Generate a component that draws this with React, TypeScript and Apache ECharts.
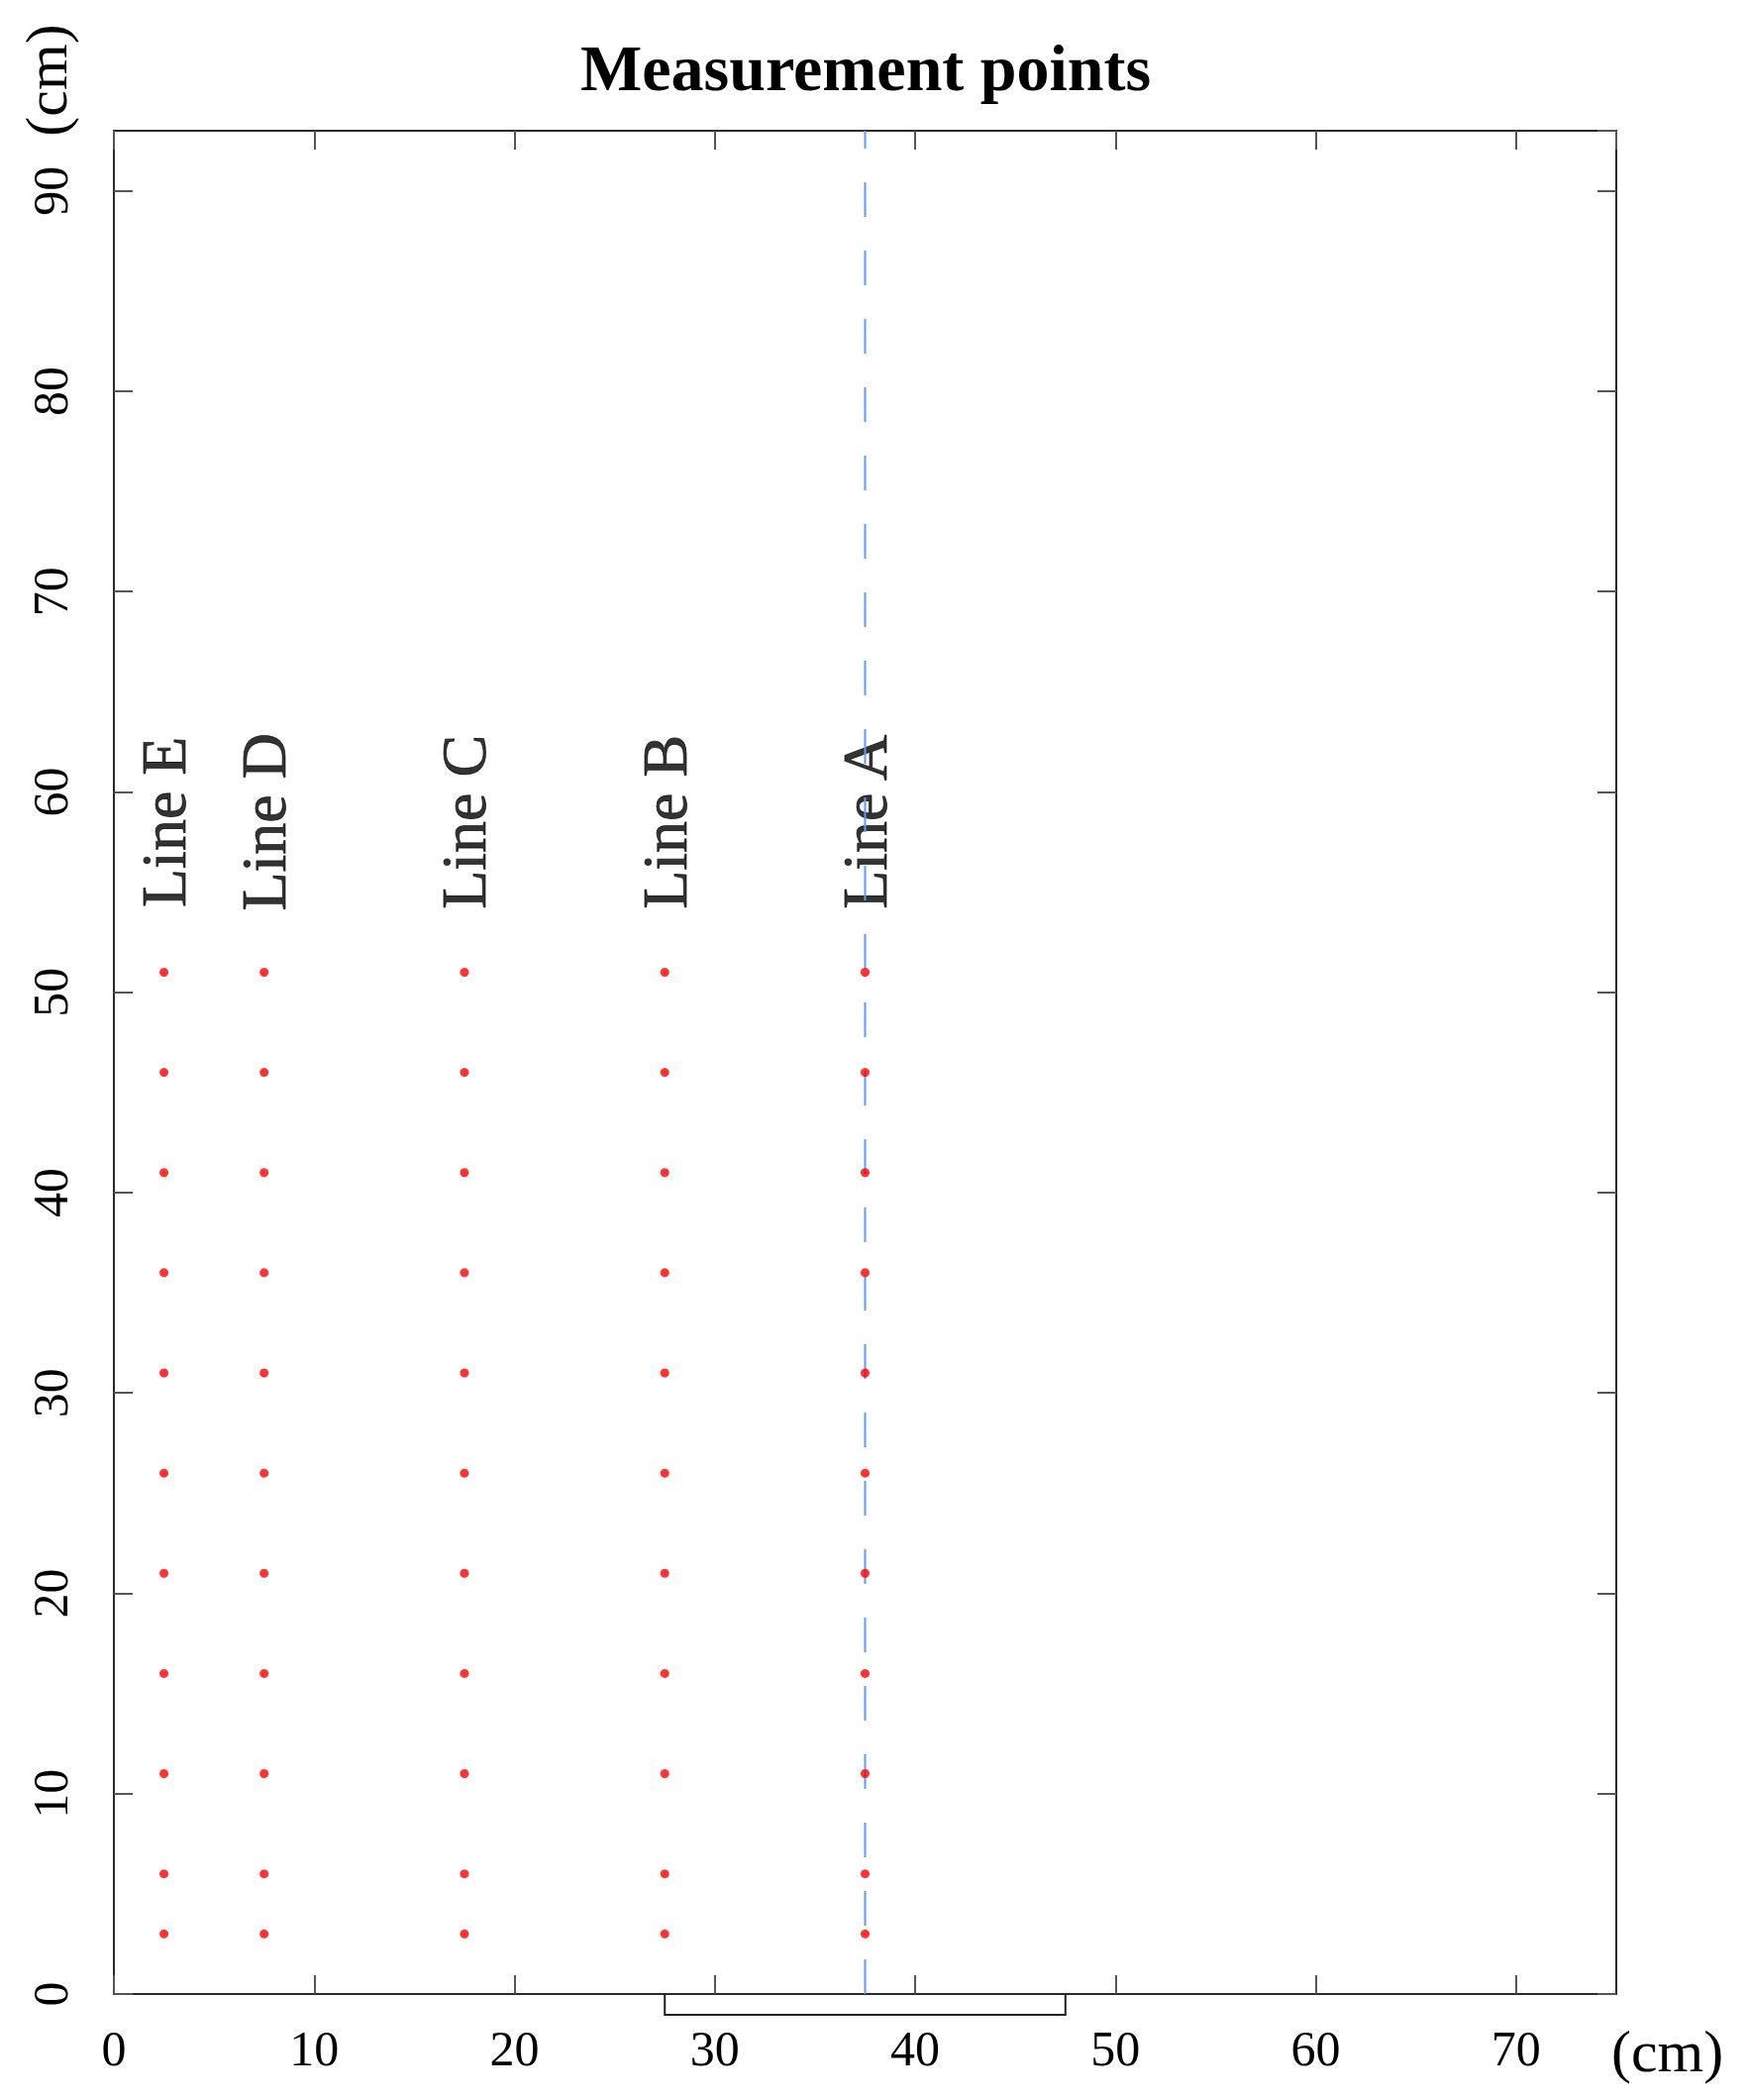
import React, { useEffect, useRef } from "react";
import * as echarts from "echarts";

// ---- data ----
const titleText = "Measurement points";
const lineNames = ["Line E", "Line D", "Line C", "Line B", "Line A"];
const lineXs = [2.5, 7.5, 17.5, 27.5, 37.5];
const pointYs = [3, 6, 11, 16, 21, 26, 31, 36, 41, 46, 51];
const lineLabelY = 58.5;
const dashedLineX = 37.5;
const dashedLineYs = [0, 93];
const bracketRange = [27.5, 47.5];
const xRange = [0, 75];
const yRange = [0, 93];
const tickInterval = 10;
const axisUnit = "(cm)";

const FONT = '"Liberation Serif", "Times New Roman", serif';

export default function App() {
  const ref = useRef<HTMLDivElement>(null);
  useEffect(() => {
    if (!ref.current) return;
    const chart = echarts.init(ref.current, null, { renderer: "svg" });

    const points: number[][] = [];
    lineXs.forEach((x) => pointYs.forEach((y) => points.push([x, y])));
    const labelData = lineXs.map((x, i) => [x, lineLabelY, lineNames[i]]);
    const dashedData = dashedLineYs.map((y) => [dashedLineX, y]);

    const axisLineStyle = { color: "#2a2a2a", width: 2 };
    const tickStyle = { color: "#555", width: 2 };

    const xBase = {
      type: "value",
      min: xRange[0],
      max: xRange[1],
      interval: tickInterval,
      splitLine: { show: false },
      axisLine: { show: true, onZero: false, lineStyle: axisLineStyle },
      axisTick: { show: true, inside: true, length: 19, lineStyle: tickStyle },
    };
    const yBase = {
      type: "value",
      min: yRange[0],
      max: yRange[1],
      interval: tickInterval,
      splitLine: { show: false },
      axisLine: { show: true, onZero: false, lineStyle: axisLineStyle },
      axisTick: { show: true, inside: true, length: 19, lineStyle: tickStyle },
    };

    chart.setOption({
      animation: false,
      backgroundColor: "#fff",
      title: {
        text: titleText,
        left: 586,
        top: 35,
        padding: 0,
        textStyle: { fontFamily: FONT, fontWeight: "bold", fontSize: 66, color: "#000" },
      },
      grid: { left: 115, right: 132, top: 132, bottom: 107, containLabel: false },
      xAxis: [
        {
          ...xBase,
          position: "bottom",
          axisLabel: {
            show: true,
            margin: 30,
            fontSize: 50,
            fontFamily: FONT,
            color: "#000",
            showMaxLabel: false,
          },
        },
        { ...xBase, position: "top", axisLabel: { show: false } },
      ],
      yAxis: [
        {
          ...yBase,
          position: "left",
          axisLabel: {
            show: true,
            rotate: 90,
            margin: 39,
            fontSize: 50,
            fontFamily: FONT,
            color: "#000",
            showMaxLabel: false,
          },
        },
        { ...yBase, position: "right", axisLabel: { show: false } },
      ],
      graphic: [
        {
          type: "text",
          x: 47,
          y: 81,
          rotation: Math.PI / 2,
          style: {
            text: axisUnit,
            font: `60px ${FONT}`,
            fill: "#000",
            align: "center",
            verticalAlign: "middle",
          },
        },
        {
          type: "text",
          x: 1627,
          y: 2071,
          style: {
            text: axisUnit,
            font: `60px ${FONT}`,
            fill: "#000",
            align: "left",
            verticalAlign: "middle",
          },
        },
      ],
      series: [
        {
          name: "labels",
          type: "scatter",
          z: 1,
          silent: true,
          symbolSize: 1,
          itemStyle: { color: "rgba(0,0,0,0)" },
          data: labelData,
          label: {
            show: true,
            position: "inside",
            rotate: 90,
            formatter: (p: any) => p.value[2],
            fontFamily: FONT,
            fontSize: 64,
            color: "#000",
            textBorderWidth: 0.8,
            textBorderColor: "#000",
            align: "center",
            verticalAlign: "middle",
          },
          emphasis: { disabled: true },
        },
        {
          name: "Line A axis",
          type: "line",
          z: 2,
          silent: true,
          symbol: "none",
          data: dashedData,
          lineStyle: { color: "#5a9cff", width: 2, type: [35, 34] },
          emphasis: { disabled: true },
        },
        {
          name: "points",
          type: "scatter",
          z: 3,
          silent: true,
          symbolSize: 9,
          itemStyle: { color: "#ff0000" },
          data: points,
          emphasis: { disabled: true },
        },
        {
          name: "bracket",
          type: "custom",
          z: 3,
          silent: true,
          clip: false,
          data: [bracketRange],
          renderItem: (params: any, api: any) => {
            const p1 = api.coord([api.value(0), yRange[0]]);
            const p2 = api.coord([api.value(1), yRange[0]]);
            const d = 21;
            return {
              type: "polyline",
              shape: {
                points: [
                  [p1[0], p1[1]],
                  [p1[0], p1[1] + d],
                  [p2[0], p2[1] + d],
                  [p2[0], p2[1]],
                ],
              },
              style: { stroke: "#222", lineWidth: 2, fill: null },
            };
          },
        },
      ],
    });
    return () => chart.dispose();
  }, []);
  return (
    <div
      ref={ref}
      style={{ position: "absolute", left: 0, top: 0, width: 1764, height: 2120 }}
    />
  );
}
